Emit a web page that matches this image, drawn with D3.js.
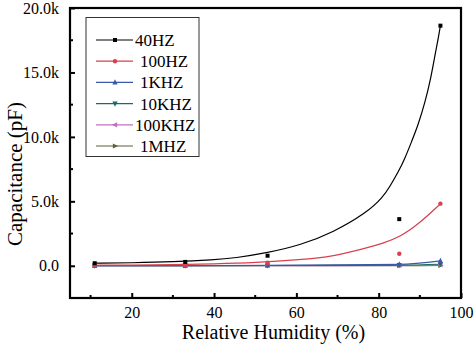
<!DOCTYPE html>
<html><head><meta charset="utf-8">
<script src="https://cdn.jsdelivr.net/npm/d3@7"></script>
<style>body{margin:0;background:#fff}svg{display:block}
svg text{font-family:"Liberation Serif","DejaVu Serif","Noto Serif",serif !important;}</style>
</head><body>
<svg id="c" width="474" height="345"></svg>
<script>
// ---- data ----
const humidity = [11, 33, 53, 85, 95];
const seriesNames = ["40HZ", "100HZ", "1KHZ", "10KHZ", "100KHZ", "1MHZ"];
const cap40Hz  = [200, 300, 780, 3620, 18630];
const cap100Hz = [20, 60, 230, 930, 4820];
const cap1kHz  = [10, 15, 40, 110, 380];
const cap10kHz = [5, 8, 20, 50, 120];
const cap100kHz= [3, 5, 10, 20, 60];
const cap1MHz  = [2, 3, 5, 10, 20];
// fitted curves
const fit40HzX  = [11, 20, 30, 40, 45, 53, 61, 69, 77, 81, 82.8, 84.8, 86.4, 88, 89.6, 91.3, 92.5, 93.7, 94.5, 95];
const fit40HzY  = [200, 230, 300, 460, 600, 1000, 1600, 2600, 4100, 5300, 6200, 7300, 8350, 9640, 10930, 12740, 14290, 16360, 17700, 18630];
const fit100HzX = [11, 20, 30, 40, 50, 61, 69, 77, 81, 85, 90, 95];
const fit100HzY = [40, 60, 90, 150, 240, 465, 721, 1372, 1750, 2200, 3310, 4806];
const xTicks = [20, 40, 60, 80, 100];
const yTicks = [0, 5000, 10000, 15000, 20000];
const yTickLabels = ["0.0", "5.0k", "10.0k", "15.0k", "20.0k"];

const colors = ["#000000", "#d8404c", "#3a5aa8", "#1c6b62", "#c070c0", "#5f5f38"];
const symbols = ["square", "circle", "up", "down", "left", "right"];
const pointData = [cap40Hz, cap100Hz, cap1kHz, cap10kHz, cap100kHz, cap1MHz];

const svg = d3.select("#c");
const m = {l: 70, r: 13, t: 8, b: 47};
const W = 474, H = 345;
const x = d3.scaleLinear().domain([5, 100]).range([m.l, W - m.r]);
const y = d3.scaleLinear().domain([-2500, 20000]).range([H - m.b, m.t]);
const serif = "Liberation Serif, DejaVu Serif, serif";

// curves
const fitLine = d3.line().x(d => x(d[0])).y(d => y(d[1])).curve(d3.curveBasis);
const line = d3.line().x(d => x(d[0])).y(d => y(d[1])).curve(d3.curveMonotoneX);
const curves = [
  {c: colors[0], d: fitLine(d3.zip(fit40HzX, fit40HzY))},
  {c: colors[1], d: fitLine(d3.zip(fit100HzX, fit100HzY))}
];
for (let i = 2; i < pointData.length; i++) curves.push({c: colors[i], d: line(d3.zip(humidity, pointData[i]))});
const gPlot = svg.append("g");
curves.slice().reverse().forEach(cv => {
  gPlot.append("path").attr("d", cv.d).attr("fill", "none").attr("stroke", cv.c).attr("stroke-width", 1.2);
});

function symPath(kind, cx, cy) {
  const s = 2.6;
  if (kind === "up") return `M${cx},${cy - s - 0.5}L${cx + s},${cy + s - 0.5}L${cx - s},${cy + s - 0.5}Z`;
  if (kind === "down") return `M${cx},${cy + s + 0.5}L${cx + s},${cy - s + 0.5}L${cx - s},${cy - s + 0.5}Z`;
  if (kind === "left") return `M${cx - s - 0.5},${cy}L${cx + s - 0.5},${cy - s}L${cx + s - 0.5},${cy + s}Z`;
  if (kind === "right") return `M${cx + s + 0.5},${cy}L${cx - s + 0.5},${cy - s}L${cx - s + 0.5},${cy + s}Z`;
  return "";
}
function drawSym(g, kind, cx, cy, col) {
  if (kind === "square") g.append("rect").attr("x", cx - 2).attr("y", cy - 2).attr("width", 4).attr("height", 4).attr("fill", col);
  else if (kind === "circle") g.append("circle").attr("cx", cx).attr("cy", cy).attr("r", 2.2).attr("fill", col);
  else g.append("path").attr("d", symPath(kind, cx, cy)).attr("fill", col);
}
for (let i = pointData.length - 1; i >= 0; i--) {
  pointData[i].forEach((v, j) => drawSym(gPlot, symbols[i], x(humidity[j]), y(v), colors[i]));
}

// axes
const fs = 16;
const xAxis = d3.axisBottom(x).tickValues(xTicks).tickSize(-5).tickPadding(9).tickFormat(d3.format("d"));
const gx = svg.append("g").attr("transform", `translate(0,${H - m.b})`).call(xAxis);
const yAxis = d3.axisLeft(y).tickValues(yTicks).tickSize(-5).tickPadding(11).tickFormat((d, i) => yTickLabels[i]);
const gy = svg.append("g").attr("transform", `translate(${m.l},0)`).call(yAxis);
[gx, gy].forEach(g => {
  g.attr("font-family", serif);
  g.select(".domain").remove();
  g.selectAll("line").attr("stroke", "#000").attr("stroke-width", 2);
  g.selectAll("text").attr("font-family", serif).attr("font-size", fs).attr("fill", "#000");
});
// minor ticks
const xMinor = [10, 30, 50, 70, 90];
svg.append("g").selectAll("line").data(xMinor).join("line")
  .attr("x1", d => x(d)).attr("x2", d => x(d)).attr("y1", H - m.b).attr("y2", H - m.b - 3)
  .attr("stroke", "#000").attr("stroke-width", 2);
const yMinor = [2500, 7500, 12500, 17500];
svg.append("g").selectAll("line").data(yMinor).join("line")
  .attr("x1", m.l).attr("x2", m.l + 3).attr("y1", d => y(d)).attr("y2", d => y(d))
  .attr("stroke", "#000").attr("stroke-width", 2);

// frame
svg.append("rect").attr("x", m.l).attr("y", m.t).attr("width", W - m.l - m.r).attr("height", H - m.t - m.b)
  .attr("fill", "none").attr("stroke", "#000").attr("stroke-width", 2.2);

// axis titles
svg.append("text").attr("x", (m.l + W - m.r) / 2 + 8).attr("y", 339).attr("text-anchor", "middle")
  .attr("font-family", serif).attr("font-size", 20).text("Relative Humidity (%)");
svg.append("text").attr("transform", "translate(22,174) rotate(-90)").attr("text-anchor", "middle")
  .attr("font-family", serif).attr("font-size", 21).text("Capacitance (pF)");

// legend
const lg = svg.append("g");
lg.append("rect").attr("x", 86).attr("y", 17.5).attr("width", 113).attr("height", 139)
  .attr("fill", "#fff").attr("stroke", "#333").attr("stroke-width", 1);
const textX = [135, 140, 140, 140, 135, 140];
seriesNames.forEach((n, i) => {
  const yy = 40 + i * 21.2;
  lg.append("line").attr("x1", 96).attr("x2", 133).attr("y1", yy).attr("y2", yy).attr("stroke", colors[i]).attr("stroke-width", 1.2);
  drawSym(lg, symbols[i], 115, yy, colors[i]);
  lg.append("text").attr("x", textX[i]).attr("y", yy + 6).attr("font-family", serif).attr("font-size", 17).text(n);
});
</script>
</body></html>
